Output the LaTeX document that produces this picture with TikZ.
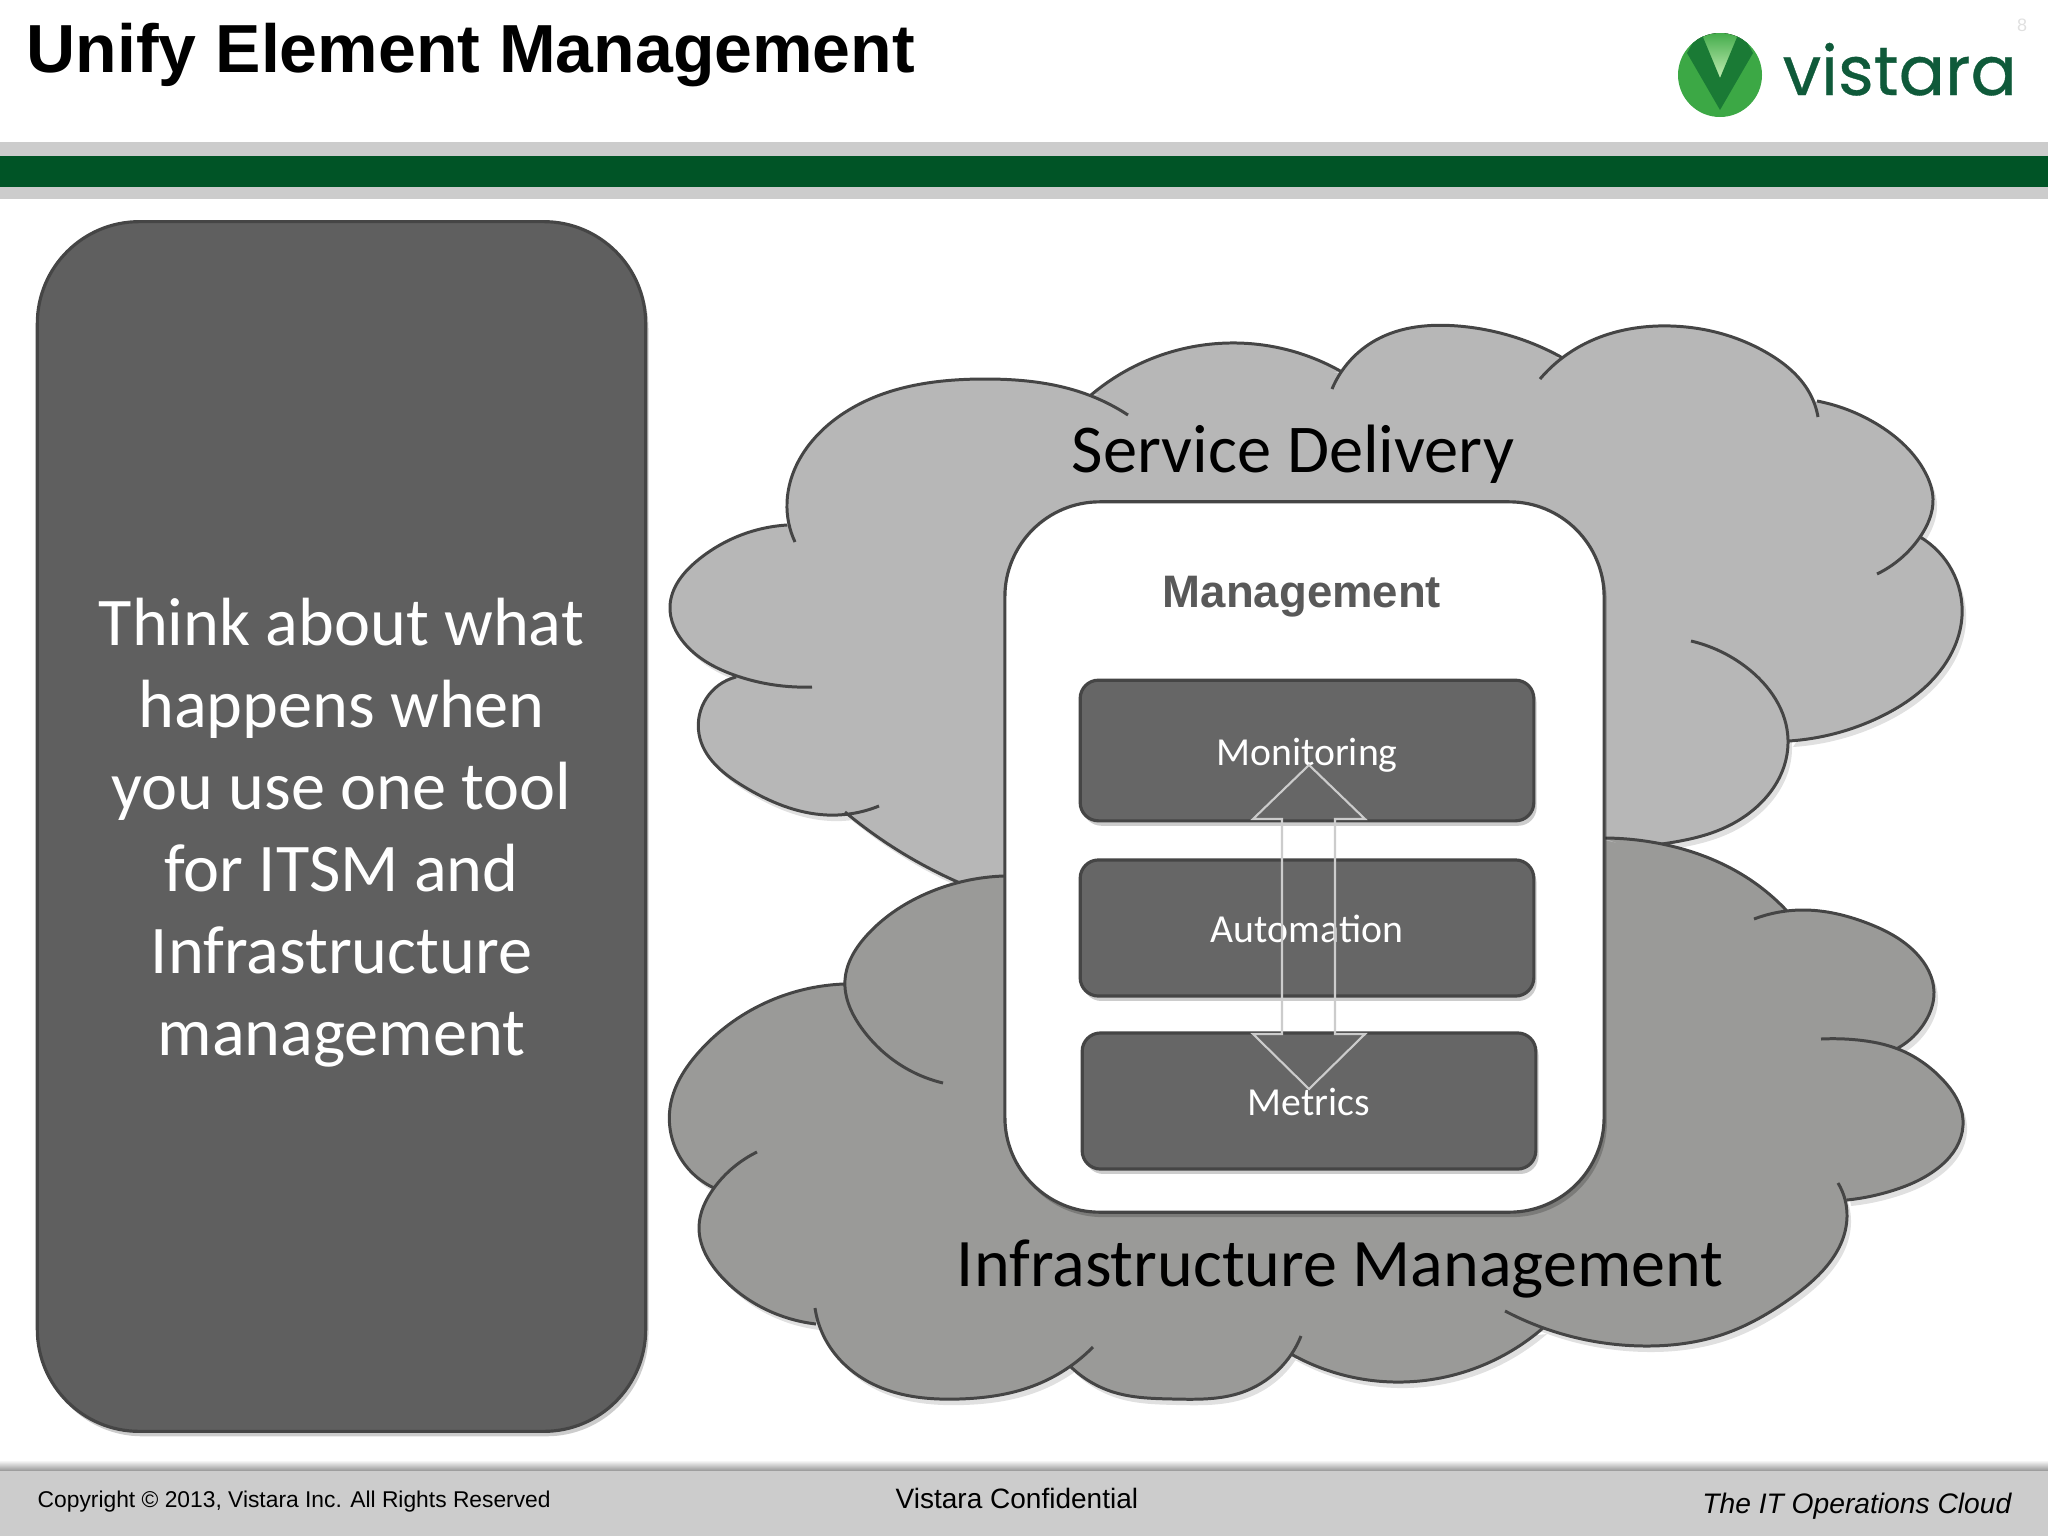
\documentclass[tikz,border=0pt]{standalone}
\usepackage{fontspec}
\usepackage{tikz}
\setmainfont{Carlito}
\newfontfamily\arialfont{Liberation Sans}
\newfontfamily\logofont[FakeBold=0.5]{Poppins}
\usetikzlibrary{shapes,positioning,calc,shadows,hobby}

\definecolor{barGreen}{HTML}{005426}
\definecolor{barGray}{HTML}{CCCCCC}
\definecolor{panelGray}{HTML}{5F5F5F}
\definecolor{edgeGray}{HTML}{454545}
\definecolor{boxGray}{HTML}{666666}
\definecolor{topCloud}{HTML}{B7B7B7}
\definecolor{lowCloud}{HTML}{9A9A98}
\definecolor{logoGreen}{HTML}{0F5A3A}
\definecolor{logoMid}{HTML}{3CA845}
\definecolor{logoDark}{HTML}{1A7A35}
\definecolor{logoPale}{HTML}{C8F0B8}

% font size in pixels of the 2048 wide picture
\newcommand{\pxfont}[1]{\fontsize{\the\dimexpr#1pt*2845/10000\relax}{\the\dimexpr#1pt*3/10\relax}\selectfont}

\tikzset{
    softshadow/.style={drop shadow={shadow xshift=0.8pt,shadow yshift=-1.4pt,opacity=0.2,fill=black}},
    layerbox/.style={draw=edgeGray,line width=0.9pt,fill=boxGray,rounded corners=5.2pt,
        text=white,minimum width=129pt,softshadow,font=\pxfont{39.7},inner sep=0pt,text height=8.4pt,text depth=0pt},
    cloudline/.style={draw=edgeGray,line width=0.85pt},
    cloudtitle/.style={text=black,inner sep=0pt,anchor=base},
}

% lobes of the two clouds, all running clockwise
\newcommand{\toplobes}{
    (795,542) .. (787,503) .. (841,415) .. (984,379) .. (1086,394) .. (1128,415)
    (1091,395) .. (1229,343) .. (1342,372)
    (1332,389) .. (1376,340) .. (1458,326) .. (1561,357)
    (1540,379) .. (1577,348) .. (1671,326) .. (1769,354) .. (1809,392) .. (1818,417)
    (1817,401) .. (1880,426) .. (1925,472) .. (1933,499) .. (1920,537) .. (1877,574)
    (1920,537) .. (1962,616) .. (1943,667) .. (1880,717) .. (1789,741)
    (1691,641) .. (1746,667) .. (1788,740) .. (1724,828) .. (1662,844) .. (1604,850)
    (1005,900) .. (899,851) .. (845,812)
    (879,806) .. (827,815) .. (743,786) .. (699,734) .. (736,677)
    (812,687) .. (737,676) .. (685,644) .. (670,606) .. (698,560) .. (787,525)
}
\newcommand{\lowlobes}{
    (943,1083) .. (899,1064) .. (863,1030) .. (845,980) .. (868,934) .. (930,892) .. (1004,876)
    (714,1188) .. (670,1108) .. (698,1053) .. (765,1003) .. (844,984)
    (816,1324) .. (765,1309) .. (720,1275) .. (699,1227) .. (714,1188) .. (757,1152)
    (1093,1347) .. (1033,1386) .. (959,1399) .. (877,1386) .. (828,1344) .. (815,1308)
    (1301,1336) .. (1243,1392) .. (1173,1399) .. (1113,1392) .. (1071,1367)
    (1543,1328) .. (1403,1382) .. (1291,1354)
    (1838,1183) .. (1847,1217) .. (1791,1298) .. (1724,1334) .. (1644,1346) .. (1505,1311)
    (1821,1039) .. (1858,1040) .. (1898,1049) .. (1943,1080) .. (1963,1120) .. (1903,1187) .. (1847,1200)
    (1754,919) .. (1804,910) .. (1867,923) .. (1916,953) .. (1934,992) .. (1925,1022) .. (1898,1048)
    (1604,838) .. (1662,844) .. (1746,877) .. (1787,911)
}
\newcommand{\topcore}{(787,525) -- (880,430) -- (1091,396) -- (1220,365) -- (1342,373) -- (1450,345) -- (1561,358) -- (1670,345) -- (1817,402)
    -- (1880,480) -- (1920,537) -- (1920,640) -- (1789,741) -- (1720,800) -- (1662,844) -- (1005,900) -- (900,850) -- (845,812)
    -- (745,760) -- (736,677) -- (720,610) -- cycle}
\newcommand{\lowcore}{(844,984) -- (900,930) -- (1004,878) -- (1604,840) -- (1690,860) -- (1787,911) -- (1880,950) -- (1898,1048) -- (1930,1110)
    -- (1847,1200) -- (1750,1300) -- (1543,1328) -- (1400,1365) -- (1291,1354) -- (1170,1385) -- (1071,1367) -- (950,1385) -- (816,1322)
    -- (730,1260) -- (714,1188) -- (715,1100) -- cycle}

\begin{document}
\begin{tikzpicture}[x=0.01cm,y=-0.01cm]
    \useasboundingbox (0,0) rectangle (2048,1536);

    % header
    \node[font=\arialfont\bfseries\pxfont{68},anchor=base west,inner sep=0pt] (title) at (26,72) {Unify Element Management};
    \fill[barGray] (0,142) rectangle (2048,199);
    \fill[barGreen] (0,156) rectangle (2048,187);
    \node[font=\arialfont\pxfont{18},text=black!12,inner sep=0pt] (pagenum) at (2022,25) {8};

    % logo
    \fill[logoMid] (1720,75) circle (42);
    \begin{scope}
        \clip (1720,75) circle (42);
        \fill[top color=logoMid,bottom color=logoPale] (1690,30) -- (1750,30) -- (1720,80) -- cycle;
        \fill[logoDark] (1687,53) -- (1700,30) -- (1720,78) -- (1740,30) -- (1753,53) -- (1720,110) -- cycle;
    \end{scope}
    \node[font=\logofont\pxfont{68.5},text=logoGreen,anchor=base west,inner sep=0pt] (logotext) at (1782,95) {vistara};

    % left panel
    \node[draw=edgeGray,line width=0.9pt,fill=panelGray,rounded corners=29pt,minimum width=173pt,minimum height=344pt,
        softshadow,inner sep=0pt] (panel) at (341.5,826.5) {};
    \node[text=white,align=center,font=\fontsize{19.4pt}{23.3pt}\selectfont,inner sep=0pt] (paneltext) at (341.5,833)
        {Think about what\\happens when\\you use one tool\\for ITSM and\\Infrastructure\\management};

    % upper cloud
    \fill[black,opacity=0.12,shift={(4,6)},use Hobby shortcut] \toplobes;
    \fill[topCloud] \topcore;
    \fill[topCloud,use Hobby shortcut] \toplobes;
    \draw[cloudline,use Hobby shortcut] \toplobes;

    % lower cloud
    \fill[black,opacity=0.12,shift={(4,6)},use Hobby shortcut] \lowlobes;
    \fill[lowCloud] \lowcore;
    \fill[lowCloud,use Hobby shortcut] \lowlobes;
    \draw[cloudline,use Hobby shortcut] \lowlobes;

    \node[cloudtitle,font=\pxfont{68.4}] (service) at (1293,472) {Service Delivery};
    \node[cloudtitle,font=\pxfont{68}] (infra) at (1340,1286) {Infrastructure Management};

    % white box with the three layers
    \node[draw=edgeGray,line width=0.9pt,fill=white,rounded corners=27pt,minimum width=170.4pt,minimum height=202pt,
        softshadow,inner sep=0pt] (manage) at (1304.5,857) {};
    \node[font=\arialfont\bfseries\pxfont{45.5},text=black!65,anchor=base,inner sep=0pt] (managetitle) at (1302,607) {Management};

    \node[layerbox,minimum height=40pt] (monitoring) at (1307,750.5) {Monitoring};
    \node[layerbox,minimum height=38.7pt] (automation) at (1307,928) {Automation};
    \node[layerbox,minimum height=38.7pt] (metrics) at (1309,1101) {Metrics};

    \draw[barGray,line width=0.6pt,line join=miter] (1309,765) -- (1365,819) -- (1335,819) -- (1335,1034) -- (1365,1034)
        -- (1309,1089) -- (1253,1034) -- (1282,1034) -- (1282,819) -- (1253,819) -- cycle;

    % footer
    \fill[top color=white,bottom color=black!42] (0,1460) rectangle (2048,1471);
    \fill[barGray] (0,1471) rectangle (2048,1536);
    \node[font=\arialfont\pxfont{22.8},anchor=base west,inner sep=0pt] (copyright) at (37,1507) {Copyright © 2013, Vistara Inc. All Rights Reserved};
    \node[font=\arialfont\pxfont{28},anchor=base west,inner sep=0pt] (confidential) at (895,1508) {Vistara Confidential};
    \node[font=\arialfont\itshape\pxfont{28.2},anchor=base east,inner sep=0pt] (tagline) at (2012,1513) {The IT Operations Cloud};
\end{tikzpicture}
\end{document}
